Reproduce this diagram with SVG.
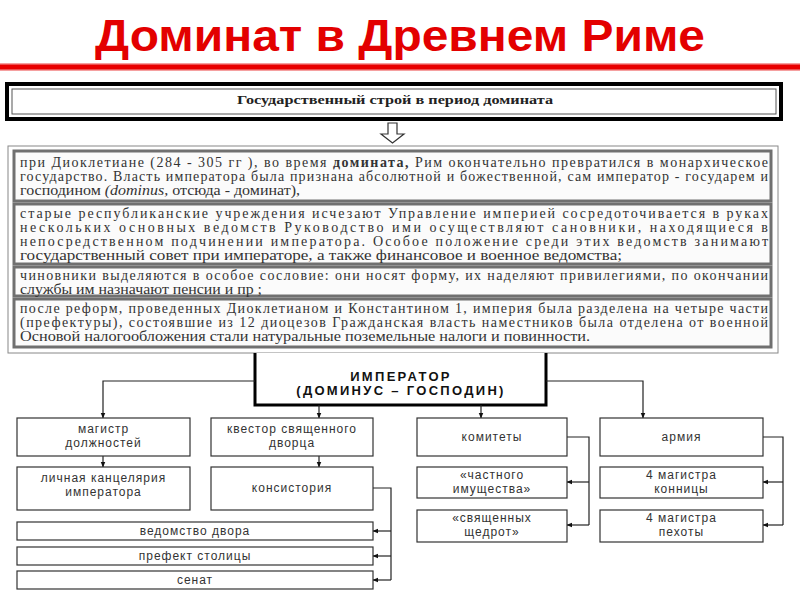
<svg xmlns="http://www.w3.org/2000/svg" width="800" height="600" viewBox="0 0 800 600">
<defs>
<marker id="ah" viewBox="0 0 10 10" refX="9" refY="5" markerWidth="6" markerHeight="6" orient="auto" markerUnits="userSpaceOnUse">
<path d="M0,1 L10,5 L0,9 Z" fill="#111"/>
</marker>
<style>
.title{font-family:"Liberation Sans",Arial,sans-serif;font-weight:bold;font-size:45px;fill:#e30000}
.hdr{font-family:"Liberation Serif","Times New Roman",serif;font-weight:bold;font-size:12px;fill:#222}
.p{font-family:"Liberation Serif","Times New Roman",serif;font-size:14px;fill:#333}
.pbox{fill:#fbfbfb;stroke:#707070;stroke-width:3}
.box{fill:#fff;stroke:#333;stroke-width:1.2}
.lbl{font-family:"Liberation Sans",Arial,sans-serif;font-size:12px;fill:#333;text-anchor:middle;letter-spacing:1px}
.emp{font-family:"Liberation Sans",Arial,sans-serif;font-weight:bold;font-size:13px;fill:#111;text-anchor:middle;letter-spacing:2.3px}
.c{fill:none;stroke:#222;stroke-width:1.2}
.ca{fill:none;stroke:#222;stroke-width:1.2;marker-end:url(#ah)}
</style>
</defs>
<rect width="800" height="600" fill="#fff"/>
<g id="title">
<text class="title" x="400" y="51" text-anchor="middle" textLength="610" lengthAdjust="spacingAndGlyphs">Доминат в Древнем Риме</text>
<rect x="0" y="63" width="800" height="8" fill="#f5a0a0"/>
<rect x="0" y="64.5" width="800" height="5" fill="#e80000"/>
</g>
<g id="header">
<rect x="7" y="84" width="774" height="35" fill="#fff" stroke="#000" stroke-width="4"/>
<rect x="12" y="89" width="764" height="25" fill="#fff" stroke="#555" stroke-width="1"/>
<text class="hdr" x="395" y="104" text-anchor="middle" textLength="316" lengthAdjust="spacingAndGlyphs">Государственный строй в период домината</text>
</g>
<g id="downarrow">
<polygon points="388,123 397,123 397,134 404,134 392.5,143 381,134 388,134" fill="#fff" stroke="#333" stroke-width="1.2"/>
</g>
<g id="textblock">
<rect x="8" y="146" width="770" height="207" fill="#fff" stroke="#888" stroke-width="1"/>
<g id="para1">
<rect class="pbox" x="14" y="151" width="757" height="50"/>
<text class="p" x="20" y="167" textLength="748" lengthAdjust="spacing">при Диоклетиане (284 - 305 гг ), во время <tspan font-weight="bold">домината,</tspan> Рим окончательно превратился в монархическое</text>
<text class="p" x="20" y="181" textLength="748" lengthAdjust="spacing">государство. Власть императора была признана абсолютной и божественной, сам император - государем и</text>
<text class="p" x="20" y="195" textLength="280" lengthAdjust="spacingAndGlyphs">господином <tspan font-style="italic">(dominus,</tspan> отсюда - доминат),</text>
</g>
<g id="para2">
<rect class="pbox" x="14" y="204" width="757" height="60"/>
<text class="p" x="20" y="218" textLength="748" lengthAdjust="spacing">старые республиканские учреждения исчезают Управление империей сосредоточивается в руках</text>
<text class="p" x="20" y="232" textLength="748" lengthAdjust="spacing">нескольких основных ведомств Руководство ими осуществляют сановники, находящиеся в</text>
<text class="p" x="20" y="246" textLength="748" lengthAdjust="spacing">непосредственном подчинении императора. Особое положение среди этих ведомств занимают</text>
<text class="p" x="20" y="260" textLength="602" lengthAdjust="spacingAndGlyphs">государственный совет при императоре, а также финансовое и военное ведомства;</text>
</g>
<g id="para3">
<rect class="pbox" x="14" y="267" width="757" height="29"/>
<text class="p" x="20" y="280" textLength="748" lengthAdjust="spacing">чиновники выделяются в особое сословие: они носят форму, их наделяют привилегиями, по окончании</text>
<text class="p" x="20" y="294" textLength="242" lengthAdjust="spacingAndGlyphs">службы им назначают пенсии и пр ;</text>
</g>
<g id="para4">
<rect class="pbox" x="14" y="299" width="757" height="48"/>
<text class="p" x="20" y="313" textLength="748" lengthAdjust="spacing">после реформ, проведенных Диоклетианом и Константином 1, империя была разделена на четыре части</text>
<text class="p" x="20" y="327" textLength="748" lengthAdjust="spacing">(префектуры), состоявшие из 12 диоцезов Гражданская власть наместников была отделена от военной</text>
<text class="p" x="20" y="341" textLength="570" lengthAdjust="spacingAndGlyphs">Основой налогообложения стали натуральные поземельные налоги и повинности.</text>
</g>
</g>
<g id="emperor">
<rect x="255" y="353" width="291" height="52" fill="#fff" stroke="none"/>
<path d="M255,353 V405 H546 V353" fill="none" stroke="#000" stroke-width="3"/>
<text class="emp" x="401" y="381">ИМПЕРАТОР</text>
<text class="emp" x="401" y="395">(ДОМИНУС – ГОСПОДИН)</text>
</g>
<g id="connectors">
<path class="ca" d="M255,381 H103 V418"/>
<path class="ca" d="M546,381 H643 V418"/>
<path class="ca" d="M319,405 V418"/>
<path class="ca" d="M481,405 V418"/>
<path class="ca" d="M103,456 V467"/>
<path class="ca" d="M319,456 V467"/>
<path class="c" d="M567,437 H589 V525"/>
<path class="ca" d="M589,482 H567"/>
<path class="ca" d="M589,525 H567"/>
<path class="c" d="M763,437 H783 V525"/>
<path class="ca" d="M783,482 H763"/>
<path class="ca" d="M783,525 H763"/>
<path class="c" d="M373,488 H391 V580"/>
<path class="ca" d="M391,531 H373"/>
<path class="ca" d="M391,556 H373"/>
<path class="ca" d="M391,580 H373"/>
</g>
<g id="magistr">
<rect class="box" x="17" y="418" width="173" height="38"/>
<text class="lbl" x="103.5" y="433">магистр</text>
<text class="lbl" x="103.5" y="447">должностей</text>
</g>
<g id="kvestor">
<rect class="box" x="211" y="418" width="162" height="38"/>
<text class="lbl" x="292" y="433">квестор священного</text>
<text class="lbl" x="292" y="447">дворца</text>
</g>
<g id="komitety">
<rect class="box" x="417" y="418" width="150" height="38"/>
<text class="lbl" x="492" y="441">комитеты</text>
</g>
<g id="armiya">
<rect class="box" x="600" y="418" width="163" height="38"/>
<text class="lbl" x="681.5" y="441">армия</text>
</g>
<g id="kantselyariya">
<rect class="box" x="17" y="467" width="173" height="43"/>
<text class="lbl" x="103.5" y="482">личная канцелярия</text>
<text class="lbl" x="103.5" y="496">императора</text>
</g>
<g id="konsistoriya">
<rect class="box" x="211" y="467" width="162" height="43"/>
<text class="lbl" x="292" y="492">консистория</text>
</g>
<g id="chastnogo">
<rect class="box" x="417" y="467" width="150" height="31"/>
<text class="lbl" x="492" y="479">«частного</text>
<text class="lbl" x="492" y="493">имущества»</text>
</g>
<g id="svyashchennykh">
<rect class="box" x="417" y="510" width="150" height="32"/>
<text class="lbl" x="492" y="522">«священных</text>
<text class="lbl" x="492" y="536">щедрот»</text>
</g>
<g id="konnitsy">
<rect class="box" x="600" y="467" width="163" height="31"/>
<text class="lbl" x="681.5" y="479">4 магистра</text>
<text class="lbl" x="681.5" y="493">конницы</text>
</g>
<g id="pekhoty">
<rect class="box" x="600" y="510" width="163" height="32"/>
<text class="lbl" x="681.5" y="522">4 магистра</text>
<text class="lbl" x="681.5" y="536">пехоты</text>
</g>
<g id="vedomstvo">
<rect class="box" x="17" y="522" width="356" height="18"/>
<text class="lbl" x="195" y="535">ведомство двора</text>
</g>
<g id="prefekt">
<rect class="box" x="17" y="547" width="356" height="18"/>
<text class="lbl" x="195" y="560">префект столицы</text>
</g>
<g id="senat">
<rect class="box" x="17" y="571" width="356" height="18"/>
<text class="lbl" x="195" y="584">сенат</text>
</g>
</svg>
